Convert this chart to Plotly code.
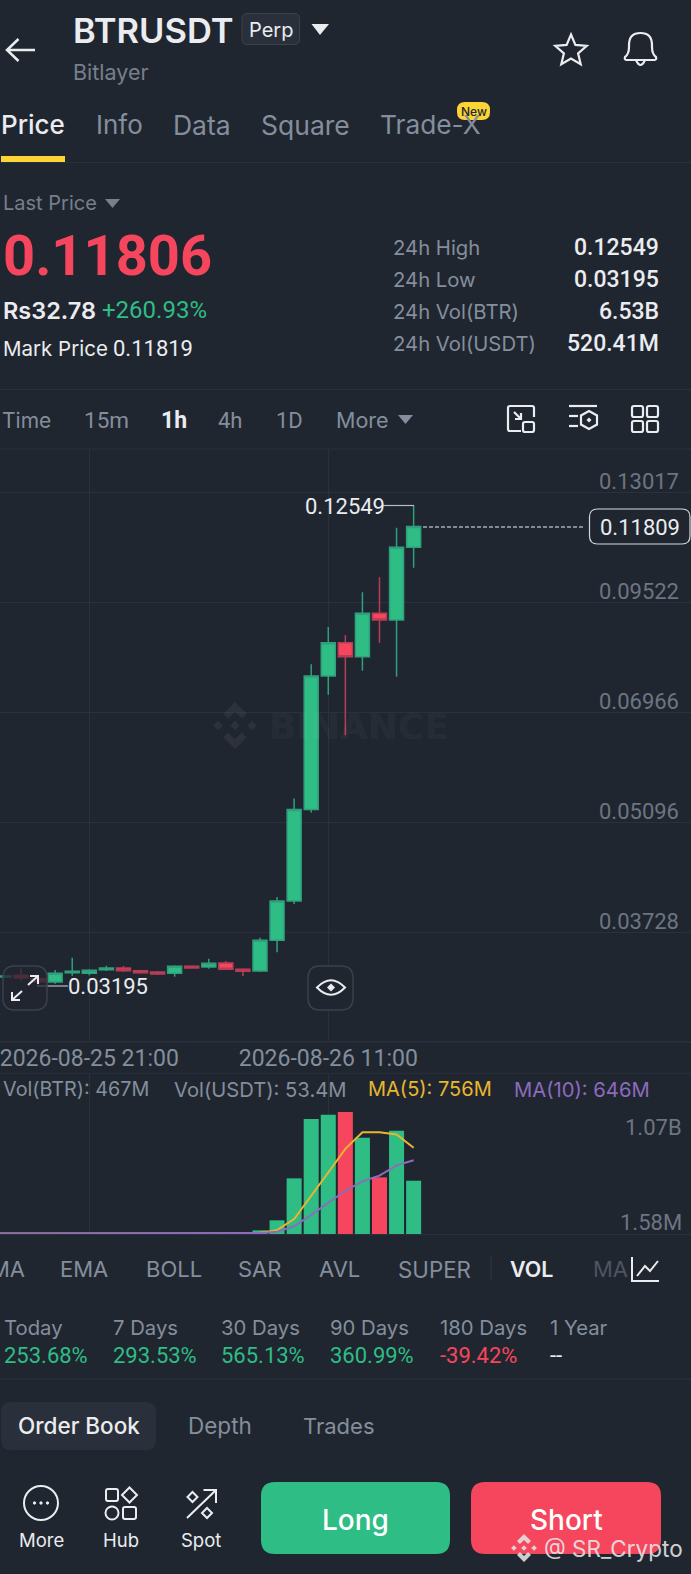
import math
import re
import plotly.graph_objects as go

W, H = 691, 1574
BG = '#202630'
GREEN = '#2ebd85'
RED = '#f6465d'
GRID = '#2b313c'
GRAY = '#848e9c'
DIM = '#6d7582'
WHITE = '#eaecef'
YELLOW = '#e9b62f'
PURPLE = '#8d6bbd'
FONT = 'Inter'
NUM_FONT = 'Roboto'

# 1h candles (the first one sits just past the left edge)
times = ['2026-08-25 15:00', '2026-08-25 16:00', '2026-08-25 17:00', '2026-08-25 18:00', '2026-08-25 19:00',
         '2026-08-25 20:00',
         '2026-08-25 21:00', '2026-08-25 22:00', '2026-08-25 23:00', '2026-08-26 00:00', '2026-08-26 01:00',
         '2026-08-26 02:00', '2026-08-26 03:00', '2026-08-26 04:00', '2026-08-26 05:00', '2026-08-26 06:00',
         '2026-08-26 07:00', '2026-08-26 08:00', '2026-08-26 09:00', '2026-08-26 10:00', '2026-08-26 11:00',
         '2026-08-26 12:00', '2026-08-26 13:00', '2026-08-26 14:00', '2026-08-26 15:00', '2026-08-26 16:00']
opens = [.03280, .03284, .03300, .03268, .03237, .03324, .03318, .03352, .03369, .03343, .03331, .03318, .03385, .03378,
         .03417, .03356, .03340, .03645, .04075, .05285, .07723, .08490, .08159, .09230, .09055, .11134]
closes = [.03284, .03293, .03274, .03240, .03318, .03337, .03347, .03369, .03343, .03324, .03312, .03385, .03369, .03414,
          .03356, .03337, .03645, .04075, .05285, .07723, .08490, .08159, .09230, .09055, .11134, .11809]
highs = [.03290, .03302, .03366, .03302, .03350, .03469, .03356, .03391, .03388, .03350, .03340, .03395, .03395, .03459,
         .03436, .03366, .03672, .04122, .05453, .07985, .08877, .08678, .09797, .10224, .11771, .12549]
lows = [.03275, .03274, .03246, .03195, .03222, .03296, .03300, .03340, .03331, .03315, .03302, .03286, .03362, .03362,
        .03350, .03293, .03331, .03522, .04041, .05240, .07323, .06526, .07841, .08490, .07708, .10507]

# volume in millions of BTR
volumes = [5, 5, 6, 5, 7, 5, 4, 4, 3, 3, 3, 4, 3, 5, 5, 8, 32, 120, 488, 1009, 1046, 1070, 845, 497, 906, 467]
ma5 = [5, 5, 5, 5, 5, 6, 5, 5, 4, 4, 3, 3, 3, 4, 4, 5, 11, 34, 131, 331, 539, 747, 892, 893, 873, 756]
ma10 = [5, 5, 5, 5, 5, 5, 5, 5, 5, 5, 5, 4, 4, 4, 4, 4, 8, 20, 68, 168, 272, 379, 463, 512, 602, 646]

price_ticks = [0.13017, 0.09522, 0.06966, 0.05096, 0.03728]
date_ticks = ['2026-08-25 21:00', '2026-08-26 11:00']
date_labels = ['2026-08-25 21:00', '2026-08-26 11:00']

stat_names = ['24h High', '24h Low', '24h Vol(BTR)', '24h Vol(USDT)']
stat_values = ['0.12549', '0.03195', '6.53B', '520.41M']
period_names = ['Today', '7 Days', '30 Days', '90 Days', '180 Days', '1 Year']
period_values = ['253.68%', '293.53%', '565.13%', '360.99%', '-39.42%', '--']

shapes = []
annotations = []


def fx(x):
    return x / W


def fy(y):
    return 1 - y / H


# svg path written in screen pixels, turned into paper coordinates
def px_path(d):
    out = []
    is_x = True
    for tok in re.findall(r'[MLQCZ]|-?[\d.]+', d):
        if tok in 'MLQCZ':
            out.append(tok)
            is_x = True
        else:
            out.append(str(fx(float(tok)) if is_x else fy(float(tok))))
            is_x = not is_x
    return ' '.join(out)


def P(d, color=None, w=2, fill=None):
    shapes.append(dict(type='path', xref='paper', yref='paper', path=px_path(d),
                       line=dict(color=color or 'rgba(0,0,0,0)', width=w if color else 0),
                       fillcolor=fill or 'rgba(0,0,0,0)'))


def rr(x0, y0, x1, y1, r, fill=None, color=None, w=1):
    P(f'M {x0+r} {y0} L {x1-r} {y0} Q {x1} {y0} {x1} {y0+r} L {x1} {y1-r} Q {x1} {y1} {x1-r} {y1} '
      f'L {x0+r} {y1} Q {x0} {y1} {x0} {y1-r} L {x0} {y0+r} Q {x0} {y0} {x0+r} {y0} Z', color, w, fill)


def ln(x0, y0, x1, y1, color=GRID, w=1, dash=None):
    shapes.append(dict(type='line', xref='paper', yref='paper', x0=fx(x0), x1=fx(x1), y0=fy(y0), y1=fy(y1),
                       line=dict(color=color, width=w, dash=dash)))


def circ(cx, cy, r, color=WHITE, w=2, fill=None):
    shapes.append(dict(type='circle', xref='paper', yref='paper', x0=fx(cx-r), x1=fx(cx+r), y0=fy(cy+r), y1=fy(cy-r),
                       line=dict(color=color, width=w), fillcolor=fill or 'rgba(0,0,0,0)'))


def diamond(cx, cy, r, color=None, w=2, fill=None):
    P(f'M {cx} {cy-r} L {cx+r} {cy} L {cx} {cy+r} L {cx-r} {cy} Z', color, w, fill)


def logo(cx, cy, s, fill):
    for sign in (-1, 1):
        pts = [(0, 1), (.5, .5), (.29, .29), (0, .58), (-.29, .29), (-.5, .5)]
        d = ' '.join(f'{"M" if i == 0 else "L"} {cx + a * s:.2f} {cy + sign * b * s:.2f}' for i, (a, b) in enumerate(pts))
        P(d + ' Z', fill=fill)
        diamond(cx + sign * .72 * s, cy, .2 * s, fill=fill)
    diamond(cx, cy, .2 * s, fill=fill)


def T(x, y, text, size=20, color=GRAY, anchor='left', weight=400, family=None):
    # annotations keep a small box padding, pull it back so x is the ink edge
    x = x - 1.5 if anchor == 'left' else x + 1.5 if anchor == 'right' else x
    if family is None:
        family = NUM_FONT if re.match(r'^[+\-\d.]+[%BMmhD]?$', text) else FONT
    annotations.append(dict(xref='paper', yref='paper', x=fx(x), y=fy(y), text=text, showarrow=False,
                            xanchor=anchor, yanchor='middle', borderpad=0,
                            font=dict(family=family, size=size, color=color, weight=weight)))


# ---- header
P('M 35 50 L 7 50 M 18.5 39 L 7 50 L 18.5 61', WHITE, 2.5)
T(73, 30, 'BTRUSDT', 34.5, WHITE, weight=600)
rr(242, 13.5, 299.5, 44.5, 5, '#2a303b', '#3c434f')
T(271, 30, 'Perp', 20, WHITE, 'center')
P('M 311.5 24 L 329 24 L 320 35 Z', fill=WHITE)
T(73, 72, 'Bitlayer', 21.5, '#767f8c')
star = []
for i in range(10):
    r = 16.5 if i % 2 == 0 else 7.5
    a = -math.pi / 2 + i * math.pi / 5
    star.append(f'{"M" if i == 0 else "L"} {571 + r * math.cos(a):.1f} {51 + r * math.sin(a):.1f}')
P(' '.join(star) + ' Z', WHITE, 2.2)
P('M 625 57 Q 629 54 629 47 L 629 45 Q 629 33 640.5 33 Q 652 33 652 45 L 652 47 Q 652 54 656 57 Q 657 60 654 60 '
  'L 627 60 Q 624 60 625 57 Z', WHITE, 2.2)
P('M 636 60 Q 640.5 70 645 60', WHITE, 2.2)

T(1.5, 125, 'Price', 26, WHITE, weight=500)
T(96, 125, 'Info', 26, GRAY)
T(173, 125, 'Data', 26.5, GRAY)
T(261, 125, 'Square', 26.5, GRAY)
T(381, 125, 'Trade-X', 26.3, GRAY)
rr(457, 102, 490, 120, 8, '#fcd535')
T(473.5, 111, 'New', 12, '#202630', 'center', 500)
P('M 1 156 L 65 156 L 65 162 L 1 162 Z', fill='#fcd535')
ln(0, 162.5, W, 162.5)

# ---- price block
T(3.5, 203, 'Last Price', 20, '#767f8c')
P('M 105 199 L 120 199 L 112.5 208 Z', fill='#767f8c')
T(3, 256, '0.11806', 56, RED, weight=700)
T(3.5, 310, 'Rs32.78', 23.5, WHITE, weight=600)
T(102, 310, '+260.93%', 24, GREEN)
T(3.5, 349, 'Mark Price', 20.5, WHITE)
T(113, 349, '0.11819', 22, WHITE)
for i in range(4):
    T(393, 247.5 + 32 * i, stat_names[i], 20.3, GRAY)
    T(658, 247.5 + 32 * i, stat_values[i], 23, WHITE, 'right', 500)
ln(0, 389.5, W, 389.5)

# ---- interval bar
T(2, 420, 'Time', 21, GRAY)
T(84, 420, '15m', 22.5, GRAY)
T(161, 420, '1h', 23, WHITE, weight=700)
T(218, 420, '4h', 22, GRAY)
T(276, 420, '1D', 22, GRAY)
T(336, 420, 'More', 21.5, GRAY)
P('M 398 415 L 413 415 L 405.5 424 Z', fill=GRAY)
P('M 521 431 L 510 431 Q 508 431 508 429 L 508 408 Q 508 406 510 406 L 532 406 Q 534 406 534 408 L 534 417', WHITE, 2.2)
rr(523, 422, 534, 432, 2, None, WHITE, 2.2)
P('M 514 412 L 521 419 M 521 413 L 521 419 L 515 419', WHITE, 2.2)
ln(569, 406, 597, 406, WHITE, 2.2)
ln(569, 416, 578, 416, WHITE, 2.2)
ln(569, 426, 578, 426, WHITE, 2.2)
P('M 589 411 L 597 415.5 L 597 424.5 L 589 429 L 581 424.5 L 581 415.5 Z', WHITE, 2.2)
diamond(589, 420, 2.5, fill=WHITE)
for x0 in (632, 647):
    for y0 in (406, 421):
        rr(x0, y0, x0 + 11, y0 + 11, 2, None, WHITE, 2.2)
ln(0, 449, W, 449)

# ---- watermark
logo(235, 725.5, 23.5, 'rgba(255,255,255,0.055)')
T(359, 726.5, 'BINANCE', 36, 'rgba(255,255,255,0.055)', 'center', 700, 'DejaVu Sans')

# ---- price chart labels
for p in price_ticks:
    annotations.append(dict(xref='paper', yref='y', x=fx(681), y=math.log10(p), text=f'{p:.5f}', showarrow=False,
                            xanchor='right', yanchor='middle', yshift=11,
                            font=dict(family=NUM_FONT, size=22, color=DIM)))
ln(383, 505.5, 414, 505.5, '#b7bcc4', 1.2)
T(384, 506, '0.12549', 22, WHITE, 'right')
ln(37, 986, 68, 986, '#b7bcc4', 1.2)
T(68, 986.5, '0.03195', 22, WHITE)
ln(423, 527, 585, 527, WHITE, 1, '4px,2px')
rr(589.5, 509, 690, 544, 8, BG, '#d5d8dc', 1.2)
T(640, 527, '0.11809', 22, WHITE, 'center')

rr(3, 966, 47, 1010, 12, 'rgba(32,38,48,0.72)', '#3a414c', 1.5)
P('M 12 1000 L 22 991 M 12 992 L 12 1000 L 20 1000 M 28 985 L 38 976 M 30 976 L 38 976 L 38 984', WHITE, 2)
rr(308, 966, 353, 1010, 12, BG, '#3a414c', 1.5)
P('M 317 987.5 Q 331 973 345 987.5 Q 331 1002 317 987.5 Z', WHITE, 2)
diamond(331, 987.5, 4, fill=WHITE)

# ---- volume legend and labels
ln(0, 1041.7, W, 1041.7, GRID, 1.5)
ln(0, 1073.3, W, 1073.3, GRID, 1)
T(3.5, 1089, 'Vol(BTR): 467M', 19.8, GRAY)
T(174.5, 1089, 'Vol(USDT): 53.4M', 20.2, GRAY)
T(368.5, 1089, 'MA(5): 756M', 20, YELLOW)
T(514.5, 1089, 'MA(10): 646M', 20.2, PURPLE)
T(681, 1127, '1.07B', 22, DIM, 'right')
T(681, 1222, '1.58M', 22, DIM, 'right')
ln(0, 1234.5, W, 1234.5)

# ---- indicators row
T(24, 1269, 'MA', 22, GRAY, 'right')
T(60, 1269, 'EMA', 22, GRAY)
T(146, 1269, 'BOLL', 22, GRAY)
T(238, 1269, 'SAR', 22, GRAY)
T(319, 1269, 'AVL', 22, GRAY)
T(398, 1269, 'SUPER', 22.3, GRAY)
ln(491, 1257, 491, 1281, GRID, 1.5)
T(510, 1269, 'VOL', 21.5, WHITE, weight=600)
T(593, 1269, 'MA', 22, '#4d5561')
P('M 632 1257 L 632 1281 L 659 1281', WHITE, 2)
P('M 637 1276 L 645 1266 L 650 1271 L 658 1261', WHITE, 2)

# ---- period returns
period_x = [4, 113, 221, 330, 440, 550]
for i in range(6):
    T(period_x[i], 1327, period_names[i], 20.3, GRAY)
    color = WHITE if period_values[i] == '--' else RED if period_values[i].startswith('-') else GREEN
    T(period_x[i], 1355, period_values[i], 22, color)
ln(0, 1379, W, 1379)

# ---- order book tabs
rr(1, 1402, 156, 1450, 10, '#2a303b')
T(79, 1425.5, 'Order Book', 22.5, WHITE, 'center', 500)
T(188, 1425.5, 'Depth', 22.5, GRAY)
T(303, 1425.5, 'Trades', 22, GRAY)

# ---- bottom bar
circ(41, 1503, 17)
for dx in (-6.5, 0, 6.5):
    circ(41 + dx, 1503, 1.2, WHITE, 1, WHITE)
rr(106, 1489, 118, 1501, 2, None, WHITE, 2)
diamond(129.5, 1495, 7.5, WHITE)
circ(112, 1513, 6.5)
rr(123, 1507, 136, 1519, 2, None, WHITE, 2)
P('M 187 1518 L 216 1490 M 203.5 1490 L 216 1490 L 216 1503', WHITE, 2)
diamond(192.5, 1497, 5, WHITE)
diamond(207, 1513, 5, WHITE)
T(41, 1540, 'More', 18.5, WHITE, 'center')
T(121, 1540, 'Hub', 18.5, WHITE, 'center')
T(201, 1540, 'Spot', 18.5, WHITE, 'center')
rr(261, 1482, 450, 1554, 14, GREEN)
rr(471, 1482, 661, 1554, 14, RED)
T(355, 1520, 'Long', 28, '#ffffff', 'center', 500)
T(566, 1520, 'Short', 28, '#ffffff', 'center', 500)

# ---- author mark
logo(524, 1548, 14, 'rgba(225,225,225,0.9)')
T(544, 1548, '@ SR_Crypto', 22.5, 'rgba(232,232,232,0.9)')

fig = go.Figure()
fig.add_trace(go.Candlestick(
    x=times, open=opens, high=highs, low=lows, close=closes,
    increasing=dict(line=dict(color='#2f9f7c', width=1.5), fillcolor=GREEN),
    decreasing=dict(line=dict(color='#b93c55', width=1.5), fillcolor=RED),
    whiskerwidth=0, showlegend=False, xaxis='x', yaxis='y'))

bar_colors = [GREEN if c >= o else RED for o, c in zip(opens, closes)]
fig.add_trace(go.Bar(x=times, y=volumes, marker_color=bar_colors, marker_line_width=0,
                     showlegend=False, xaxis='x2', yaxis='y2'))
fig.add_trace(go.Scatter(x=times, y=ma5, mode='lines', line=dict(color=YELLOW, width=2),
                         showlegend=False, xaxis='x2', yaxis='y2'))
fig.add_trace(go.Scatter(x=times, y=ma10, mode='lines', line=dict(color=PURPLE, width=2),
                         showlegend=False, xaxis='x2', yaxis='y2'))

x_range = ['2026-08-25 15:46:07', '2026-08-27 08:14:56']
fig.update_layout(
    width=W, height=H, margin=dict(l=0, r=0, t=0, b=0, pad=0),
    paper_bgcolor=BG, plot_bgcolor=BG, bargap=0.12, boxgap=0.18, boxgroupgap=0,
    font=dict(family=FONT, size=20, color=GRAY),
    shapes=shapes, annotations=annotations,
    xaxis=dict(domain=[0, 1], anchor='y', range=x_range, type='date', rangeslider=dict(visible=False),
               tickvals=date_ticks, ticktext=date_labels, tickfont=dict(family=NUM_FONT, size=23, color=GRAY),
               ticks='', ticklabelstandoff=0, ticklabeloverflow='allow', showgrid=True, gridcolor=GRID, gridwidth=1,
               zeroline=False, showline=False),
    yaxis=dict(domain=[fy(1042), fy(449)], anchor='x', type='log', range=[-1.56388, -0.83205],
               tickvals=price_ticks, showticklabels=False, ticks='', showgrid=True, gridcolor=GRID,
               gridwidth=1, zeroline=False, showline=False),
    xaxis2=dict(domain=[0, 1], anchor='y2', matches='x', type='date', tickvals=date_ticks, showticklabels=False,
                ticks='', showgrid=True, gridcolor=GRID, gridwidth=1, zeroline=False, showline=False),
    yaxis2=dict(domain=[fy(1234), fy(1074)], anchor='x2', range=[0, 1403], showticklabels=False, ticks='',
                showgrid=False, zeroline=False, showline=False),
)

# page default margin would push the figure off the window
fig.write_html("out.html", config=dict(displayModeBar=False),
               post_script="document.body.style.margin='0';document.body.style.background='#202630';")
